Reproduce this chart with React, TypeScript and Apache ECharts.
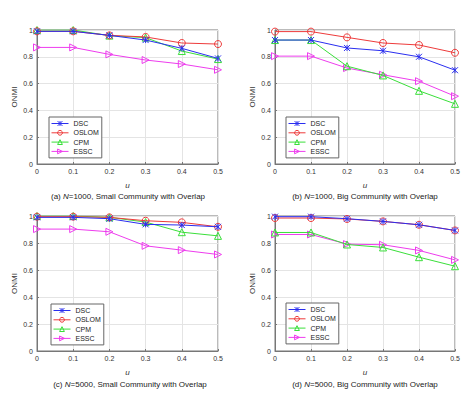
import React, { useEffect, useRef } from "react";
import * as echarts from "echarts";

const muValues = ["0", "0.1", "0.2", "0.3", "0.4", "0.5"];
const xNums = [0, 0.1, 0.2, 0.3, 0.4, 0.5];
const methods = ["DSC", "OSLOM", "CPM", "ESSC"];

const dscA = [0.99, 0.99, 0.96, 0.925, 0.863, 0.788];
const oslomA = [0.99, 0.99, 0.96, 0.948, 0.903, 0.895];
const cpmA = [1.0, 1.0, 0.958, 0.943, 0.843, 0.783];
const esscA = [0.87, 0.87, 0.818, 0.776, 0.746, 0.703];

const dscB = [0.925, 0.925, 0.866, 0.845, 0.8, 0.7];
const oslomB = [0.988, 0.988, 0.945, 0.903, 0.888, 0.83];
const cpmB = [0.925, 0.925, 0.73, 0.661, 0.546, 0.449];
const esscB = [0.805, 0.805, 0.716, 0.666, 0.618, 0.506];

const dscC = [0.99, 0.99, 0.98, 0.938, 0.933, 0.92];
const oslomC = [0.995, 0.995, 0.99, 0.965, 0.953, 0.92];
const cpmC = [1.0, 1.0, 0.99, 0.955, 0.88, 0.853];
const esscC = [0.903, 0.903, 0.883, 0.779, 0.747, 0.715];

const dscD = [0.995, 0.995, 0.98, 0.96, 0.935, 0.893];
const oslomD = [0.985, 0.985, 0.978, 0.96, 0.935, 0.893];
const cpmD = [0.878, 0.878, 0.789, 0.767, 0.695, 0.628];
const esscD = [0.863, 0.863, 0.792, 0.787, 0.745, 0.675];

const captions = [
  ["(a) ", "N", "=1000, Small Community with Overlap"],
  ["(b) ", "N", "=1000, Big Community with Overlap"],
  ["(c) ", "N", "=5000, Small Community with Overlap"],
  ["(d) ", "N", "=5000, Big Community with Overlap"],
];

const panelData = [
  [dscA, oslomA, cpmA, esscA],
  [dscB, oslomB, cpmB, esscB],
  [dscC, oslomC, cpmC, esscC],
  [dscD, oslomD, cpmD, esscD],
];

const colors = ["#2a2ef0", "#ee3b3b", "#3adf3a", "#ee3cee"];
const symbols = [
  "path://M0,0L10,10M10,0L0,10M5,0L5,10",
  "circle",
  "triangle",
  "path://M0,0L10,5L0,10Z",
];
const symbolSizes = [6, 7, 7, 7];

const FONT = "'Liberation Sans', Arial, Helvetica, sans-serif";
const CLEAR = "rgba(255,255,255,0)";

const grids = [
  { left: 37, top: 30, width: 181, height: 134 },
  { left: 275, top: 30, width: 180, height: 134 },
  { left: 37, top: 216, width: 181, height: 135 },
  { left: 275, top: 216, width: 180, height: 135 },
];
const legendPos = [
  { left: 49, top: 117 },
  { left: 286, top: 117 },
  { left: 51, top: 304 },
  { left: 286, top: 303 },
];
const captionPos = [
  { x: 128, y: 196 },
  { x: 365, y: 196 },
  { x: 130, y: 384 },
  { x: 365, y: 384 },
];

export default function App() {
  const ref = useRef<HTMLDivElement>(null);
  useEffect(() => {
    if (!ref.current) return;
    const chart = echarts.init(ref.current, undefined, { renderer: "svg" });
    const xAxis: any[] = [];
    const yAxis: any[] = [];
    const series: any[] = [];
    const legend: any[] = [];
    const graphic: any[] = [];
    grids.forEach((g, i) => {
      xAxis.push({
        type: "value",
        gridIndex: i,
        min: 0,
        max: 0.5,
        interval: 0.1,
        name: "u",
        nameLocation: "middle",
        nameGap: 17,
        nameTextStyle: { fontStyle: "italic", fontSize: 8, color: "#333", fontFamily: FONT },
        axisLine: { lineStyle: { color: "#777", width: 1 } },
        axisTick: { inside: true, length: 2, lineStyle: { color: "#777" } },
        axisLabel: {
          fontSize: 7,
          color: "#333",
          margin: 4,
          fontFamily: FONT,
          formatter: (v: number) => muValues[Math.round(v * 10)] ?? String(v),
        },
        splitLine: { show: true, lineStyle: { color: "#e4e4e4", width: 1 } },
      });
      yAxis.push({
        type: "value",
        gridIndex: i,
        min: 0,
        max: 1,
        interval: 0.2,
        name: "ONMI",
        nameLocation: "middle",
        nameGap: 19,
        nameTextStyle: { fontSize: 8, color: "#333", fontFamily: FONT },
        axisLine: { show: true, lineStyle: { color: "#777", width: 1 } },
        axisTick: { show: true, inside: true, length: 2, lineStyle: { color: "#777" } },
        axisLabel: {
          fontSize: 7,
          color: "#333",
          margin: 4,
          fontFamily: FONT,
          formatter: (v: number) => (v === 0 ? "0" : v === 1 ? "1" : v.toFixed(1)),
        },
        splitLine: { show: true, lineStyle: { color: "#e4e4e4", width: 1 } },
      });
      methods.forEach((m, k) => {
        series.push({
          type: "line",
          name: m,
          xAxisIndex: i,
          yAxisIndex: i,
          data: panelData[i][k].map((v, j) => [xNums[j], v]),
          symbol: symbols[k],
          symbolSize: symbolSizes[k],
          showSymbol: true,
          lineStyle: { color: colors[k], width: 1 },
          itemStyle: { color: CLEAR, borderColor: colors[k], borderWidth: 1 },
          z: 2 + (3 - k),
        });
      });
      legend.push({
        data: methods.map((m, k) => ({
          name: m,
          itemStyle: { color: CLEAR, borderColor: colors[k], borderWidth: 1 },
          lineStyle: { color: colors[k], width: 1 },
        })),
        orient: "vertical",
        left: legendPos[i].left,
        top: legendPos[i].top,
        itemWidth: 17,
        itemHeight: 6,
        itemGap: 2.3,
        padding: [3, 3, 3, 2],
        backgroundColor: "#fff",
        borderColor: "#666",
        borderWidth: 1,
        selectedMode: false,
        textStyle: { fontSize: 7, color: "#222", fontFamily: FONT },
      });
      const c = captions[i];
      graphic.push({
        type: "text",
        x: captionPos[i].x,
        y: captionPos[i].y,
        style: {
          text: `${c[0]}{i|${c[1]}}${c[2]}`,
          rich: { i: { fontStyle: "italic", fontSize: 8, fontFamily: FONT, fill: "#222" } },
          fontSize: 8,
          fontFamily: FONT,
          fill: "#222",
          align: "center",
          verticalAlign: "middle",
        },
      });
    });
    chart.setOption({
      animation: false,
      backgroundColor: "#fff",
      grid: grids.map((g) => ({ ...g, show: true, borderColor: "#777", borderWidth: 1, backgroundColor: CLEAR })),
      xAxis,
      yAxis,
      series,
      legend,
      graphic,
    });
    return () => chart.dispose();
  }, []);
  return (
    <div
      ref={ref}
      style={{ position: "fixed", left: 0, top: 0, width: 474, height: 394, background: "#fff" }}
    />
  );
}
